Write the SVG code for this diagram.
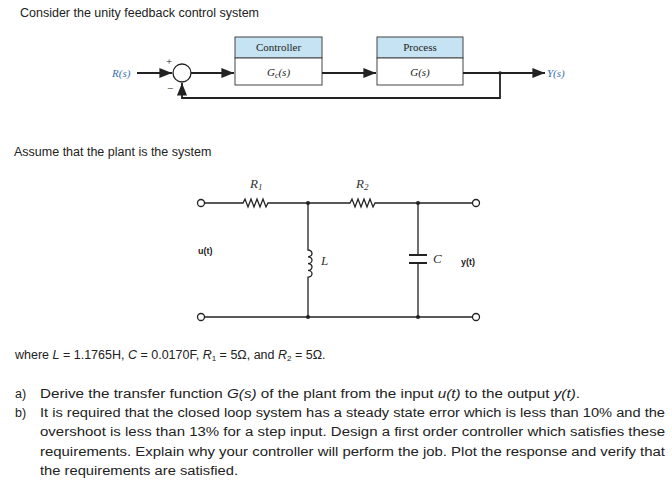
<svg xmlns="http://www.w3.org/2000/svg" width="672" height="490" viewBox="0 0 672 490">
<style>
.t{font-family:"Liberation Sans",Arial,sans-serif;font-size:12.5px;fill:#222}
.s{font-family:"Liberation Serif","Times New Roman",serif;font-size:11px;fill:#222}
.c{font-family:"Liberation Serif","Times New Roman",serif;font-size:13px;fill:#333;font-style:italic}
.u{font-family:"Liberation Sans",Arial,sans-serif;font-size:9px;font-weight:bold;fill:#222}
.b{font-family:"Liberation Serif","Times New Roman",serif;font-size:11px;fill:#3a6fb0;font-style:italic}
.w{stroke:#222;stroke-width:1.3;fill:none}
.k{stroke:#222;stroke-width:1.8;fill:none}
</style>
<defs><marker id="a" viewBox="0 0 10 10" refX="10" refY="5" markerWidth="7" markerHeight="7" orient="auto"><path d="M0,1L10,5L0,9z" fill="#222"/></marker></defs>
<rect width="672" height="490" fill="#fff"/>
<text class="t" x="20" y="17">Consider the unity feedback control system</text>
<g id="sum"><circle cx="182" cy="73" r="9" class="w" stroke="#555"/><text class="s" x="166" y="65">+</text><text class="s" x="167" y="92">−</text></g>
<g id="ctrl"><rect x="235" y="37" width="87" height="21" fill="#c5e3f2" stroke="#444"/><rect x="235" y="58" width="87" height="27" fill="#fff" stroke="#444"/><text class="s" x="278.5" y="51" text-anchor="middle">Controller</text><text class="s" x="278.5" y="76" text-anchor="middle" font-style="italic">G<tspan font-size="8" dy="2">c</tspan><tspan dy="-2">(s)</tspan></text></g>
<g id="proc"><rect x="377" y="37" width="86" height="21" fill="#c5e3f2" stroke="#444"/><rect x="377" y="58" width="86" height="27" fill="#fff" stroke="#444"/><text class="s" x="420" y="51" text-anchor="middle">Process</text><text class="s" x="420" y="76" text-anchor="middle" font-style="italic">G(s)</text></g>
<text class="b" x="112" y="77">R(s)</text><text class="b" x="547" y="77">Y(s)</text>
<g id="connectors">
<path class="k" d="M137,73H172" marker-end="url(#a)"/>
<path class="k" d="M191,73H234" marker-end="url(#a)"/>
<path class="k" d="M322,73H376" marker-end="url(#a)"/>
<path class="k" d="M463,73H545" marker-end="url(#a)"/>
<path class="k" d="M500,73V98H182V83" marker-end="url(#a)"/>
<circle cx="500" cy="73" r="1.8" fill="#222"/>
</g>
<text class="t" x="14" y="156">Assume that the plant is the system</text>
<g id="circuit">
<circle cx="201" cy="203" r="3.5" class="w"/><circle cx="201" cy="317" r="3.5" class="w"/>
<circle cx="476" cy="203" r="3.5" class="w"/><circle cx="476" cy="317" r="3.5" class="w"/>
<path class="w" d="M204.5,203H243l2,-4 3,8 3,-8 3,8 3,-8 3,8 3,-8 3,8 2,-4H350l2,-4 3,8 3,-8 3,8 3,-8 3,8 3,-8 3,8 2,-4H472.5"/>
<path class="w" d="M204.5,317H472.5"/>
<path class="w" d="M308,203V250a4,3.4 0 1 1 0,6.8a4,3.4 0 1 1 0,6.8a4,3.4 0 1 1 0,6.8a4,3.4 0 1 1 0,6.8V317"/>
<path class="w" d="M418,203V255M418,263V317"/>
<path stroke="#222" stroke-width="1.8" d="M409,255H427M409,263H427"/>
<circle cx="308" cy="203" r="2" fill="#222"/><circle cx="418" cy="203" r="2" fill="#222"/>
<circle cx="308" cy="317" r="2" fill="#222"/><circle cx="418" cy="317" r="2" fill="#222"/>
<text class="c" x="250" y="188">R<tspan font-size="9" dy="2">1</tspan></text>
<text class="c" x="356" y="188">R<tspan font-size="9" dy="2">2</tspan></text>
<text class="c" x="321" y="265">L</text>
<text class="c" x="433" y="263">C</text>
<text class="u" x="198" y="254">u(t)</text>
<text class="u" x="461" y="265">y(t)</text>
</g>
<text class="t" x="15" y="359">where <tspan font-style="italic">L</tspan> = 1.1765H, <tspan font-style="italic">C</tspan> = 0.0170F, <tspan font-style="italic">R</tspan><tspan font-size="8" dy="2">1</tspan><tspan dy="-2"> = 5Ω, and </tspan><tspan font-style="italic">R</tspan><tspan font-size="8" dy="2">2</tspan><tspan dy="-2"> = 5Ω.</tspan></text>
<text class="t" x="15" y="398">a)</text>
<text class="t" x="40" y="398" textLength="540" lengthAdjust="spacingAndGlyphs">Derive the transfer function <tspan font-style="italic">G(s)</tspan> of the plant from the input <tspan font-style="italic">u(t)</tspan> to the output <tspan font-style="italic">y(t)</tspan>.</text>
<text class="t" x="15" y="417">b)</text>
<text class="t" x="40" y="417" textLength="625" lengthAdjust="spacingAndGlyphs">It is required that the closed loop system has a steady state error which is less than 10% and the</text>
<text class="t" x="40" y="436" textLength="625" lengthAdjust="spacingAndGlyphs">overshoot is less than 13% for a step input. Design a first order controller which satisfies these</text>
<text class="t" x="40" y="456" textLength="625" lengthAdjust="spacingAndGlyphs">requirements. Explain why your controller will perform the job. Plot the response and verify that</text>
<text class="t" x="40" y="475" textLength="198" lengthAdjust="spacingAndGlyphs">the requirements are satisfied.</text>
</svg>
